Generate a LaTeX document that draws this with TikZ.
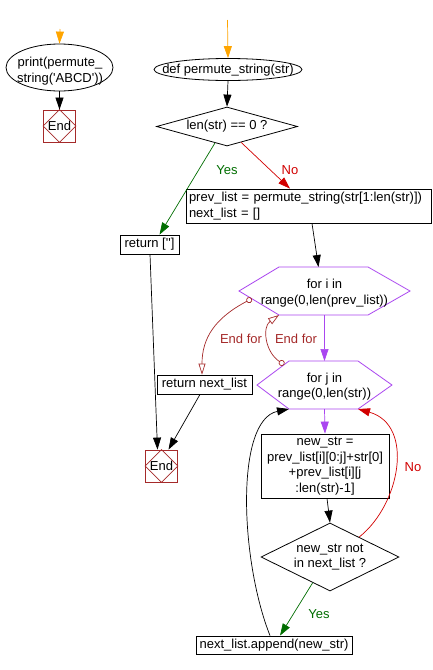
\documentclass[tikz,border=0pt]{standalone}
\usepackage{fontspec}
\setmainfont{Liberation Sans}
\usetikzlibrary{shapes.geometric,arrows.meta,calc}
\definecolor{orng}{RGB}{255,165,0}
\definecolor{purp}{RGB}{170,70,240}
\definecolor{brn}{RGB}{165,42,42}
\definecolor{dgreen}{RGB}{0,110,0}
\definecolor{nored}{RGB}{210,0,0}
\begin{document}
\begin{tikzpicture}[x=1pt,y=-1pt,
  every node/.style={font=\fontsize{13}{15.5}\selectfont, inner sep=0pt},
  box/.style={draw, rectangle, line width=0.8pt},
  ell/.style={draw, ellipse, line width=0.8pt},
  dia/.style={draw, diamond, line width=0.8pt},
  endbox/.style={draw=brn, rectangle, line width=0.8pt, minimum width=32, minimum height=32},
  hexa/.style={draw=purp, line width=0.8pt},
  arr/.style={-{Triangle[length=12pt,width=8pt]}, line width=0.7pt},
  oarr/.style={arr, color=orng},
  parr/.style={arr, color=purp},
  garr/.style={arr, color=dgreen},
  rarr/.style={arr, color=nored},
  efor/.style={{Circle[open,length=6pt,width=6pt]}-{Triangle[open,length=11pt,width=7pt]}, color=brn, line width=0.7pt},
  lbl/.style={font=\fontsize{13}{15.5}\selectfont},
]
\useasboundingbox[fill=white] (0,0) rectangle (433,670);

% ---------- left part ----------
\coordinate (o1) at (60,29);
\node[ell, minimum width=107, minimum height=47] (start1) at (59.5,67.5) {};
\node[align=center] (start1t) at (60,71) {print(permute\_\\string(\textquotesingle ABCD\textquotesingle))};
\node[endbox] (end1) at (59.5,126) {End};
\draw[brn, line width=0.6pt] (end1.north) -- (end1.east) -- (end1.south) -- (end1.west) -- cycle;
\draw[oarr] (o1) -- (start1.north);
\draw[arr] (start1.south) -- (end1.north);

% ---------- main part ----------
\coordinate (o2) at (227.5,20);
\node[ell, minimum width=148, minimum height=22] (start2) at (228,69.5) {};
\node (start2t) at (228,70) {def permute\_string(str)};
\node[dia, aspect=3.6, minimum width=141, minimum height=39] (dec1) at (227,126.5) {len(str) == 0 ?};
\node[box, minimum width=245, minimum height=34, text width=239, align=left] (box1) at (308.5,206)
  {prev\_list = permute\_string(str[1:len(str)])\\next\_list = []};
\node[box, minimum width=59, minimum height=19] (ret1) at (149.5,244.5) {return [\textquotesingle\textquotesingle]};

% hexagon 1
\coordinate (h1l) at (239,291);
\coordinate (h1tl) at (279,267);
\coordinate (h1tr) at (368,267);
\coordinate (h1r) at (410,291);
\coordinate (h1br) at (368,315);
\coordinate (h1bl) at (279,315);
\coordinate (h1t) at (324.5,267);
\coordinate (h1b) at (324.5,315);
\draw[hexa] (h1l) -- (h1tl) -- (h1tr) -- (h1r) -- (h1br) -- (h1bl) -- cycle;
\node[align=center] (hex1) at (324.5,293) {for i in\\range(0,len(prev\_list))};

% hexagon 2
\coordinate (h2l) at (257,385);
\coordinate (h2tl) at (289,361);
\coordinate (h2tr) at (358,361);
\coordinate (h2r) at (392,385);
\coordinate (h2br) at (358,409);
\coordinate (h2bl) at (289,409);
\coordinate (h2t) at (324.5,361);
\coordinate (h2b) at (324.5,409);
\draw[hexa] (h2l) -- (h2tl) -- (h2tr) -- (h2r) -- (h2br) -- (h2bl) -- cycle;
\node[align=center] (hex2) at (324.5,386.5) {for j in\\range(0,len(str))};

\node[box, minimum width=95, minimum height=19] (ret2) at (204.5,384.5) {return next\_list};
\node[endbox] (end2) at (161.5,466) {End};
\draw[brn, line width=0.6pt] (end2.north) -- (end2.east) -- (end2.south) -- (end2.west) -- cycle;

\node[box, minimum width=128, minimum height=64, align=center] (box2) at (325,466)
  {new\_str =\\prev\_list[i][0:j]+str[0]\\+prev\_list[i][j\\:len(str)-1]};
\node[dia, aspect=2.03, minimum width=138, minimum height=68, align=center] (dec2) at (330,557)
  {new\_str not\\in next\_list ?};
\node[box, minimum width=156, minimum height=18] (app) at (274,645) {next\_list.append(new\_str)};

% ---------- connectors ----------
\draw[oarr] (o2) -- (start2.north);
\draw[arr] (start2.south) -- (dec1.north);
\draw[garr] ($(dec1.south)!0.17!(dec1.west)$) -- ($(ret1.north)+(10,0)$);
\node[lbl, text=dgreen] (yes1) at (227,170) {Yes};
\draw[rarr] ($(dec1.south)!0.2!(dec1.east)$) -- ($(box1.north)+(-18.5,0)$);
\node[lbl, text=nored] (no1) at (290,170) {No};
\draw[arr] ($(box1.south)+(3.5,0)$) -- ($(h1t)+(-6,0)$);
\draw[parr] (h1b) -- (h2t);
\draw[parr] (h2b) -- (box2.north);
\draw[arr] ($(box2.south)+(2,0)$) -- (dec2.north);
\draw[rarr] ($(dec2.north)!0.42!(dec2.east)$) .. controls (400,505) and (415,425) .. (h2br);
\node[lbl, text=nored] (no2) at (413,467) {No};
\draw[garr] ($(dec2.south)!0.25!(dec2.west)$) -- ($(app.north)+(6,0)$);
\node[lbl, text=dgreen] (yes2) at (319,614) {Yes};
\draw[arr] ($(app.north)+(-4,0)$) .. controls (240,560) and (235,420) .. (h2bl);
\draw[arr] ($(ret1.south)+(0.5,0)$) -- ($(end2.north)+(-4,0)$);
\draw[arr] ($(ret2.south)+(-4.5,0)$) -- ($(end2.north)+(7,0)$);

% End for loops
\draw[efor] ($(h1l)!0.32!(h1bl)$) .. controls (215,318) and (202,338) .. ($(ret2.north)+(-2.5,0)$);
\node[lbl, text=brn] (ef1) at (241,339) {End for};
\draw[efor] ($(h2l)!0.85!(h2tl)$) .. controls (265,352) and (262,327) .. (h1bl);
\node[lbl, text=brn] (ef2) at (296,339) {End for};
\end{tikzpicture}
\end{document}
